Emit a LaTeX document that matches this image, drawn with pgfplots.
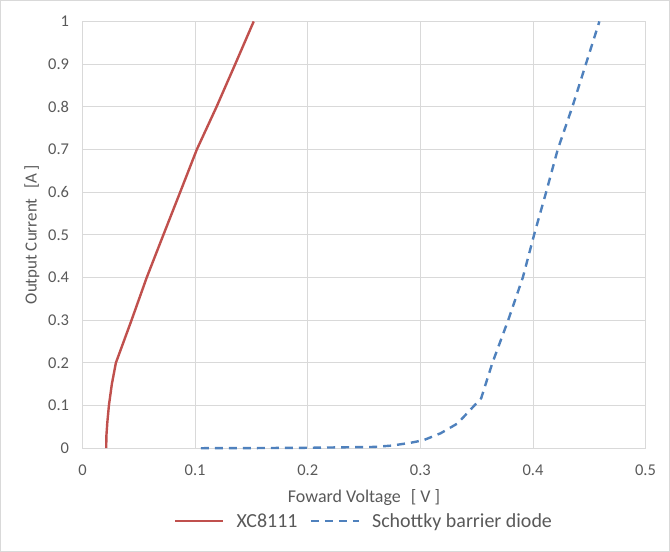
\documentclass[border=0pt]{standalone}
\usepackage{pgfplots}
\pgfplotsset{compat=1.18}
\usepackage{fontspec}
\setmainfont{Carlito}
\definecolor{xcred}{RGB}{192,80,77}
\definecolor{sbdblue}{RGB}{79,129,189}
\definecolor{txtgray}{RGB}{89,89,89}
\definecolor{gridgray}{RGB}{217,217,217}
\begin{document}
\begin{tikzpicture}
\begin{axis}[
  scale only axis,
  width=562bp, height=426bp,
  xmin=0, xmax=0.5, ymin=0, ymax=1,
  xtick={0,0.1,0.2,0.3,0.4,0.5},
  ytick={0,0.1,0.2,0.3,0.4,0.5,0.6,0.7,0.8,0.9,1},
  /pgf/number format/assume math mode=true,
  /pgf/number format/fixed,
  /pgf/number format/precision=1,
  grid=major,
  major grid style={draw=gridgray, line width=0.8bp},
  axis line style={draw=gridgray, line width=0.8bp},
  major tick length=0pt,
  tick label style={font=\fontsize{16.5}{19}\selectfont, text=txtgray},
  xticklabel style={yshift=-13bp},
  yticklabel style={xshift=-10bp},
  label style={font=\fontsize{17}{20}\selectfont, text=txtgray},
  xlabel={Foward Voltage\hspace{10bp}[ V ]},
  ylabel={Output Current\hspace{10bp}[A\,]},
  xlabel style={yshift=-7bp, font=\fontsize{18}{21}\selectfont},
  ylabel style={yshift=2bp},
  legend style={at={(0.5,-0.143)}, anchor=north, draw=none, fill=none,
    font=\fontsize{20}{23}\selectfont, text=txtgray, column sep=10bp},
  legend columns=2,
  legend image code/.code={\draw[#1] (0bp,0bp) -- (48bp,0bp);},
  clip=false,
]
\addplot[color=xcred, line width=2.4bp] coordinates {
  (0.021,0) (0.0212,0.03) (0.022,0.06) (0.0234,0.1) (0.026,0.15) (0.0296,0.2)
  (0.0435,0.3) (0.057,0.4) (0.0718,0.5) (0.0867,0.6) (0.1015,0.7)
  (0.119,0.8) (0.1356,0.9) (0.152,1.0)
};
\addlegendentry{XC8111}
\addplot[color=sbdblue, line width=2.4bp, dash pattern=on 8bp off 6bp] coordinates {
  (0.105,0) (0.15,0.0003) (0.2,0.001) (0.259,0.003) (0.274,0.006) (0.291,0.0125)
  (0.303,0.019) (0.318,0.035) (0.333,0.058) (0.354,0.117) (0.364,0.2)
  (0.378,0.3) (0.391,0.4) (0.401,0.5) (0.4117,0.6) (0.422,0.7)
  (0.435,0.8) (0.447,0.9) (0.459,1.0)
};
\addlegendentry{Schottky barrier diode}
\draw[gridgray, line width=0.8bp] ([shift={(-82bp,-103bp)}]rel axis cs:0,0) rectangle ([shift={(24bp,21bp)}]rel axis cs:1,1);
\end{axis}
\end{tikzpicture}
\end{document}
